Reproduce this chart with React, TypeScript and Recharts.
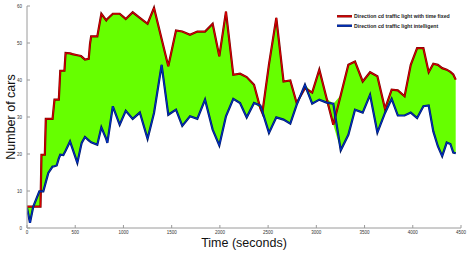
import React from 'react';
import { ComposedChart, Area, Line, XAxis, YAxis, Legend } from 'recharts';

const times = [0, 31, 65, 128, 140, 150, 169, 185, 195, 221, 265, 285, 308, 330, 345, 377, 388, 400, 446, 470, 522, 560, 567, 601, 640, 653, 665, 729, 771, 822, 833, 890, 961, 1024, 1096, 1170, 1250, 1317, 1396, 1465, 1545, 1610, 1690, 1766, 1846, 1925, 1994, 2063, 2139, 2209, 2278, 2354, 2420, 2440, 2509, 2585, 2660, 2730, 2796, 2882, 2957, 3031, 3107, 3176, 3253, 3332, 3401, 3481, 3557, 3633, 3712, 3781, 3845, 3915, 3979, 4045, 4110, 4165, 4213, 4260, 4305, 4352, 4390, 4420, 4445];

const fixedValues = [5.8, 5.8, 5.8, 5.8, 5.8, 19.8, 19.8, 19.8, 29.5, 29.5, 29.5, 34.7, 34.7, 34.7, 42.5, 42.5, 42.5, 47.3, 47.2, 47.0, 46.7, 46.5, 46.3, 45.5, 45.7, 49.7, 51.8, 51.8, 57.9, 56.1, 56.5, 57.9, 57.9, 56.5, 58.3, 56.8, 55.2, 59.5, 51.1, 43.7, 53.4, 53.1, 52.2, 53.1, 53.1, 55.2, 46.4, 58.5, 41.4, 41.7, 40.8, 38.7, 32.3, 31.1, 44.2, 56.8, 39.6, 39.9, 33.8, 37.8, 36.6, 42.8, 35.0, 27.9, 35.9, 44.1, 45.0, 39.6, 42.1, 41.0, 32.2, 37.4, 37.2, 35.6, 44.1, 48.6, 48.6, 42.1, 44.4, 44.1, 43.2, 42.8, 42.2, 41.5, 40.1];

const intelligentValues = [5.4, 1.4, 5.8, 9.9, 9.9, 9.9, 9.9, 11.4, 12.4, 14.9, 16.6, 16.7, 16.9, 18.8, 19.8, 19.7, 20.3, 20.9, 23.4, 21.6, 17.6, 22.2, 23.0, 24.6, 23.7, 23.4, 23.2, 22.5, 27.2, 24.0, 23.0, 32.9, 27.9, 31.7, 29.5, 31.2, 24.1, 31.1, 44.1, 30.6, 32.0, 27.6, 30.2, 29.5, 34.7, 26.6, 22.3, 30.2, 34.9, 33.8, 29.9, 33.8, 33.1, 31.5, 25.7, 29.9, 29.3, 28.2, 33.3, 38.7, 33.6, 34.7, 33.9, 33.6, 21.0, 25.2, 32.0, 31.2, 36.0, 25.8, 31.1, 34.9, 30.4, 30.4, 31.2, 29.7, 32.9, 33.1, 26.1, 22.1, 19.4, 23.1, 22.7, 20.4, 20.2];

const xTicks = [0, 500, 1000, 1500, 2000, 2500, 3000, 3500, 4000, 4500];
const yTicks = [0, 10, 20, 30, 40, 50, 60];
const seriesNames = ['Direction cd traffic light with time fixed', 'Direction cd traffic light intelligent'];
const xLabel = 'Time (seconds)';
const yLabel = 'Number of cars';

const data = times.map((t, i) => ({
  t,
  fixed: fixedValues[i],
  intel: intelligentValues[i],
  band: [Math.min(fixedValues[i], intelligentValues[i]), Math.max(fixedValues[i], intelligentValues[i])],
}));

const FONT = 'Liberation Sans, Arial, sans-serif';
const RED_OUT = '#7a0000';
const RED_IN = '#e00000';
const BLUE_OUT = '#001a66';
const BLUE_IN = '#0030c8';
const AXIS = '#9a9a9a';

const LegendBox = () => (
  <svg width={130} height={22} style={{ display: 'block' }}>
    {seriesNames.map((name, i) => {
      const y = 5.3 + i * 9.4;
      const outer = i === 0 ? RED_OUT : BLUE_OUT;
      const inner = i === 0 ? RED_IN : BLUE_IN;
      return (
        <g key={name}>
          <line x1={2} x2={17} y1={y} y2={y} stroke={outer} strokeWidth={2.4} />
          <line x1={2} x2={17} y1={y} y2={y} stroke={inner} strokeWidth={1.1} />
          <text x={19} y={y + 1.8} fontSize={5.2} fontWeight="bold" fontFamily={FONT} fill="#222">
            {name}
          </text>
        </g>
      );
    })}
  </svg>
);

export default function App() {
  return (
    <div style={{ position: 'absolute', left: 0, top: 0, width: 474, height: 253, background: '#fff' }}>
      <ComposedChart width={474} height={253} data={data} margin={{ top: 6, right: 13, bottom: 0, left: 0 }}>
        <XAxis
          dataKey="t"
          type="number"
          domain={[0, 4500]}
          ticks={xTicks}
          interval={0}
          allowDataOverflow
          height={25}
          tickSize={-3}
          tickMargin={6}
          stroke={AXIS}
          tick={{ fontSize: 4.5, fill: '#333', fontFamily: FONT }}
          label={{ value: xLabel, position: 'insideBottom', offset: 6, fontSize: 12.5, fill: '#111', fontFamily: FONT }}
        />
        <XAxis
          xAxisId="top"
          orientation="top"
          type="number"
          domain={[0, 4500]}
          ticks={xTicks}
          interval={0}
          height={0}
          tick={false}
          tickSize={-3}
          stroke={AXIS}
        />
        <YAxis
          type="number"
          domain={[0, 60]}
          ticks={yTicks}
          interval={0}
          width={27}
          tickSize={-3}
          tickMargin={8}
          stroke={AXIS}
          tick={{ fontSize: 4.5, fill: '#333', fontFamily: FONT }}
          label={{ value: yLabel, angle: -90, position: 'center', dx: -3, fontSize: 12.5, fill: '#111', fontFamily: FONT }}
        />
        <YAxis
          yAxisId="right"
          orientation="right"
          type="number"
          domain={[0, 60]}
          ticks={yTicks}
          interval={0}
          width={0}
          tick={false}
          tickSize={-3}
          stroke={AXIS}
        />
        <Area dataKey="band" type="linear" fill="#66ff00" fillOpacity={1} stroke="none" isAnimationActive={false} legendType="none" />
        <Line dataKey="fixed" type="linear" stroke={RED_OUT} strokeWidth={2.2} dot={false} isAnimationActive={false} />
        <Line dataKey="fixed" type="linear" stroke={RED_IN} strokeWidth={1} dot={false} isAnimationActive={false} />
        <Line dataKey="intel" type="linear" stroke={BLUE_OUT} strokeWidth={2.2} dot={false} isAnimationActive={false} />
        <Line dataKey="intel" type="linear" stroke={BLUE_IN} strokeWidth={1} dot={false} isAnimationActive={false} />
        <Legend
          layout="horizontal"
          verticalAlign="middle"
          align="center"
          content={<LegendBox />}
          wrapperStyle={{ top: 11, left: 335, width: 130, height: 22 }}
        />
      </ComposedChart>
    </div>
  );
}
